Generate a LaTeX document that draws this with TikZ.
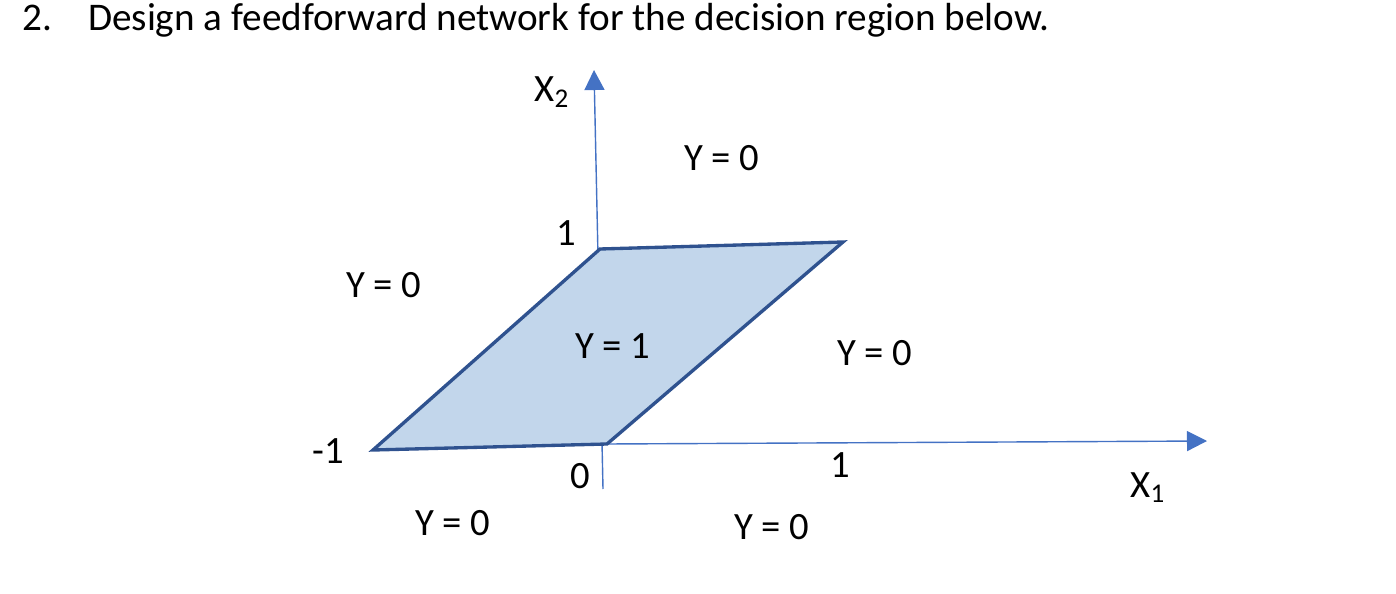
\documentclass[tikz,border=0pt]{standalone}
\usepackage{fontspec}
\setmainfont{Carlito}
\usetikzlibrary{arrows.meta}
\definecolor{axisblue}{RGB}{68,114,196}
\definecolor{edgeblue}{RGB}{47,82,143}
\definecolor{fillblue}{RGB}{194,214,235}
\newcommand{\labelnode}[3]{\node[anchor=base,inner sep=0pt,font=\fontsize{22pt}{26pt}\selectfont] (#1) at (#2) {#3};}
\newcommand{\zeronode}[2]{\labelnode{#1}{#2}{Y = 0}}
\tikzset{
  axis/.style={draw=axisblue,line width=0.8pt,-{Triangle[length=11.4pt,width=11.4pt]}},
  region/.style={draw=edgeblue,fill=fillblue,line width=1.9pt,line join=miter}
}

\begin{document}
\begin{tikzpicture}[x=0.02cm,y=-0.02cm]
  \useasboundingbox (0,0) rectangle (1396,594);

  \node[anchor=base west,inner sep=0pt,font=\fontsize{22.3pt}{26pt}\selectfont] (title) at (22,31)
    {2.\hspace{20.5pt}Design a feedforward network for the decision region below.};

  % axes
  \coordinate (origin) at (607,444);
  \coordinate (x1tip) at (1207,441);
  \coordinate (x2foot) at (603,489);
  \coordinate (x2tip) at (594,70);
  \draw[axis] (origin) -- (x1tip);
  \draw[axis] (x2foot) -- (x2tip);

  % decision region
  \coordinate (tl) at (600,249);
  \coordinate (tr) at (843,242);
  \coordinate (br) at (607,444);
  \coordinate (bl) at (373,450);
  \draw[region] (tl) -- (tr) -- (br) -- (bl) -- cycle;

  \labelnode{x2}{552,102}{X\textsubscript{2}}
  \labelnode{x1}{1148,497}{X\textsubscript{1}}
  \labelnode{tickb}{566,246}{1}
  \labelnode{tickl}{328,463}{-1}
  \labelnode{ticko}{580,488}{0}
  \labelnode{tickr}{840,477}{1}

  \zeronode{ytop}{722,171}
  \zeronode{yleft}{384,298}
  \labelnode{yin}{613,358}{Y = 1}
  \zeronode{yright}{875,366}
  \zeronode{ybl}{453,535}
  \zeronode{ybot}{772,539}
\end{tikzpicture}
\end{document}
